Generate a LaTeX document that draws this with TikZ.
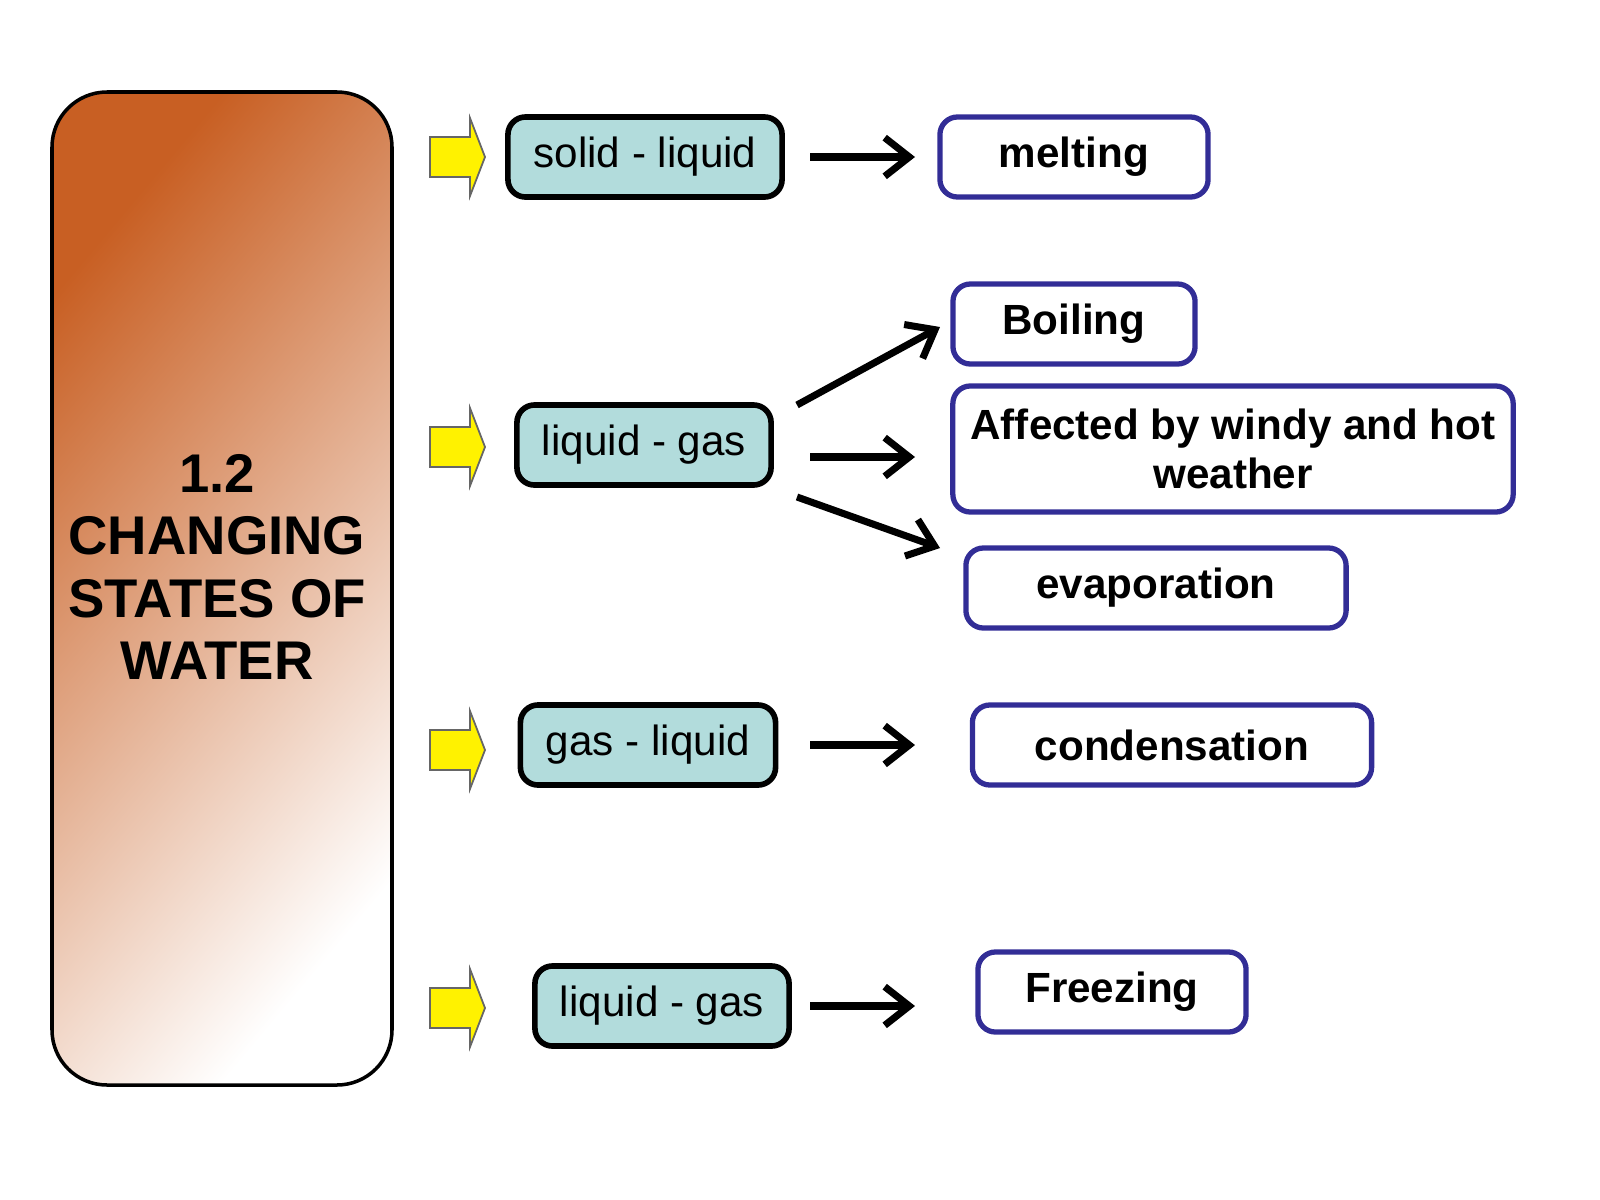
\documentclass[tikz,border=0pt]{standalone}
\usepackage{fontspec}
\setmainfont{Liberation Sans}
\usetikzlibrary{arrows.meta}
\definecolor{rust}{RGB}{200,95,35}
\definecolor{teal}{RGB}{178,220,220}
\definecolor{navy}{RGB}{50,45,150}
\tikzset{
  state/.style={draw=black, line width=1.6pt, fill=teal, rounded corners=5pt, inner sep=0pt, minimum height=0.8cm, font=\fontsize{12}{14}\selectfont},
  result/.style={draw=navy, line width=1.5pt, fill=white, rounded corners=5pt, inner sep=0pt, minimum height=0.8cm, font=\bfseries\fontsize{12}{14}\selectfont, align=center},
  link/.style={-{Straight Barb[length=7pt,width=11pt]}, line width=2pt},
  pointer/.style={fill=yellow, draw=black!60, line width=0.5pt}
}
\begin{document}
\begin{tikzpicture}[x=0.01cm, y=-0.01cm]

    % Frame
    \useasboundingbox (0,0) rectangle (1600,1200);

    % Title box
    \shade[left color=rust, right color=white, shading angle=50, draw=black, line width=1pt, rounded corners=0.55cm]
        (52,92) rectangle (392,1085);
    \node[font=\bfseries\fontsize{15.5}{17.8}\selectfont, align=center] (title) at (217,567)
        {1.2\\CHANGING\\STATES OF\\WATER};

    % Yellow pointers
    \foreach \y in {157,447,750,1008}
        \draw[pointer] (430,\y-20) -- (470,\y-20) -- (470,\y-39) -- (485,\y) -- (470,\y+39) -- (470,\y+20) -- (430,\y+20) -- cycle;

    % States
    \node[state, minimum width=2.74cm] (sl) at (645,157) {solid - liquid};
    \node[state, minimum width=2.54cm] (lg) at (644,445) {liquid - gas};
    \node[state, minimum width=2.55cm] (gl) at (648,745) {gas - liquid};
    \node[state, minimum width=2.54cm] (lg2) at (662,1006) {liquid - gas};

    % Results
    \node[result, minimum width=2.68cm] (melt) at (1074,157) {melting};
    \node[result, minimum width=2.42cm] (boil) at (1074,324) {Boiling};
    \node[result, minimum width=5.6cm, minimum height=1.26cm] (wind) at (1233,449) {Affected by windy and hot\\weather};
    \node[result, minimum width=3.8cm] (evap) at (1156,588) {evaporation};
    \node[result, minimum width=3.99cm] (cond) at (1172,745) {condensation};
    \node[result, minimum width=2.68cm] (freeze) at (1112,992) {Freezing};

    % Connectors
    \coordinate (a1) at (810,157);  \coordinate (b1) at (915,157);
    \coordinate (a2) at (797,405);  \coordinate (b2) at (940,327);
    \coordinate (a3) at (810,457);  \coordinate (b3) at (915,457);
    \coordinate (a4) at (797,497);  \coordinate (b4) at (940,548);
    \coordinate (a5) at (810,745);  \coordinate (b5) at (915,745);
    \coordinate (a6) at (810,1006); \coordinate (b6) at (915,1006);
    \foreach \i in {1,...,6}
        \draw[link] (a\i) -- (b\i);

\end{tikzpicture}
\end{document}
